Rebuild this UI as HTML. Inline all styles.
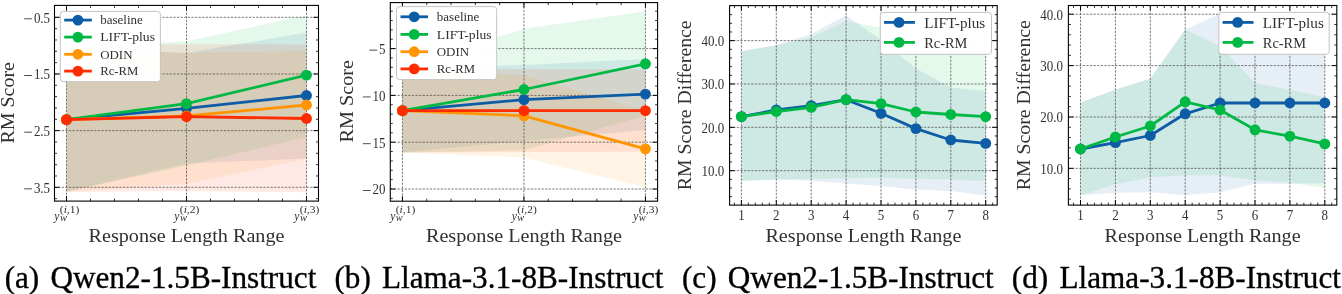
<!DOCTYPE html>
<html><head><meta charset="utf-8"><style>
html,body{margin:0;padding:0;background:#fff;width:1342px;height:294px;overflow:hidden}
svg{display:block;will-change:transform}
text{font-family:"Liberation Serif",serif}
</style></head><body>
<svg width="1342" height="294" viewBox="0 0 1342 294" font-family="Liberation Serif, serif" fill="#303030">
<rect width="1342" height="294" fill="#fff"/>
<path d="M66.5 47.7 L186.5 53 L306.5 32.6 L306.5 158.4 L186.5 163.6 L66.5 191.7Z" fill="#0C5DA5" fill-opacity="0.1"/>
<path d="M66.5 47.7 L186.5 41.3 L306.5 15.2 L306.5 137 L186.5 165.5 L66.5 191.7Z" fill="#00B945" fill-opacity="0.1"/>
<path d="M66.5 47.7 L186.5 53 L306.5 51 L306.5 158.8 L186.5 184 L66.5 191.7Z" fill="#FF9500" fill-opacity="0.1"/>
<path d="M66.5 44.5 L186.5 44.2 L306.5 44.5 L306.5 192.2 L186.5 191 L66.5 192Z" fill="#FF2C00" fill-opacity="0.1"/>
<path d="M66.5 5.4V201.1M186.5 5.4V201.1M306.5 5.4V201.1M54.5 17.3H318.5M54.5 73.97H318.5M54.5 130.64H318.5M54.5 187.31H318.5" stroke="#505050" stroke-width="0.75" stroke-dasharray="2.3 1.3" fill="none"/>
<path d="M66.5 119.7 L186.5 108.3 L306.5 95.5" fill="none" stroke="#0C5DA5" stroke-width="2.8" stroke-linejoin="round"/>
<circle cx="66.5" cy="119.7" r="5.45" fill="#0C5DA5"/>
<circle cx="186.5" cy="108.3" r="5.45" fill="#0C5DA5"/>
<circle cx="306.5" cy="95.5" r="5.45" fill="#0C5DA5"/>
<path d="M66.5 119.7 L186.5 103.7 L306.5 75.1" fill="none" stroke="#00B945" stroke-width="2.8" stroke-linejoin="round"/>
<circle cx="66.5" cy="119.7" r="5.45" fill="#00B945"/>
<circle cx="186.5" cy="103.7" r="5.45" fill="#00B945"/>
<circle cx="306.5" cy="75.1" r="5.45" fill="#00B945"/>
<path d="M66.5 119.7 L186.5 116 L306.5 105" fill="none" stroke="#FF9500" stroke-width="2.8" stroke-linejoin="round"/>
<circle cx="66.5" cy="119.7" r="5.45" fill="#FF9500"/>
<circle cx="186.5" cy="116" r="5.45" fill="#FF9500"/>
<circle cx="306.5" cy="105" r="5.45" fill="#FF9500"/>
<path d="M66.5 119.7 L186.5 116.7 L306.5 118.5" fill="none" stroke="#FF2C00" stroke-width="2.8" stroke-linejoin="round"/>
<circle cx="66.5" cy="119.7" r="5.45" fill="#FF2C00"/>
<circle cx="186.5" cy="116.7" r="5.45" fill="#FF2C00"/>
<circle cx="306.5" cy="118.5" r="5.45" fill="#FF2C00"/>
<path d="M66.5 201.1v-5M66.5 5.4v5M186.5 201.1v-5M186.5 5.4v5M306.5 201.1v-5M306.5 5.4v5M54.5 17.3h5M318.5 17.3h-5M54.5 73.97h5M318.5 73.97h-5M54.5 130.64h5M318.5 130.64h-5M54.5 187.31h5M318.5 187.31h-5" stroke="#000" stroke-width="1" fill="none"/>
<path d="M90.5 201.1v-2.5M90.5 5.4v2.5M114.5 201.1v-2.5M114.5 5.4v2.5M138.5 201.1v-2.5M138.5 5.4v2.5M162.5 201.1v-2.5M162.5 5.4v2.5M210.5 201.1v-2.5M210.5 5.4v2.5M234.5 201.1v-2.5M234.5 5.4v2.5M258.5 201.1v-2.5M258.5 5.4v2.5M282.5 201.1v-2.5M282.5 5.4v2.5M54.5 28.63h2.5M318.5 28.63h-2.5M54.5 39.97h2.5M318.5 39.97h-2.5M54.5 51.3h2.5M318.5 51.3h-2.5M54.5 62.64h2.5M318.5 62.64h-2.5M54.5 85.3h2.5M318.5 85.3h-2.5M54.5 96.64h2.5M318.5 96.64h-2.5M54.5 107.97h2.5M318.5 107.97h-2.5M54.5 119.31h2.5M318.5 119.31h-2.5M54.5 141.97h2.5M318.5 141.97h-2.5M54.5 153.31h2.5M318.5 153.31h-2.5M54.5 164.64h2.5M318.5 164.64h-2.5M54.5 175.98h2.5M318.5 175.98h-2.5M54.5 198.64h2.5M318.5 198.64h-2.5" stroke="#000" stroke-width="0.8" fill="none"/>
<rect x="54.5" y="5.4" width="264" height="195.7" fill="none" stroke="#000" stroke-width="1.1"/>
<rect x="60.3" y="11.4" width="100.1" height="70.3" rx="3" ry="3" fill="#fff" fill-opacity="0.97" stroke="#c4c4c4" stroke-width="1"/>
<path d="M64.2 20.1H91.8" stroke="#0C5DA5" stroke-width="2.8"/>
<circle cx="77.9" cy="20.1" r="5.4" fill="#0C5DA5"/>
<text x="100.2" y="24.4" font-size="12.3" textLength="42.6" lengthAdjust="spacingAndGlyphs">baseline</text>
<path d="M64.2 37.1H91.8" stroke="#00B945" stroke-width="2.8"/>
<circle cx="77.9" cy="37.1" r="5.4" fill="#00B945"/>
<text x="100.2" y="41.4" font-size="12.3" textLength="54.8" lengthAdjust="spacingAndGlyphs">LIFT-plus</text>
<path d="M64.2 54.3H91.8" stroke="#FF9500" stroke-width="2.8"/>
<circle cx="77.9" cy="54.3" r="5.4" fill="#FF9500"/>
<text x="100.2" y="58.6" font-size="12.3" textLength="32.3" lengthAdjust="spacingAndGlyphs">ODIN</text>
<path d="M64.2 71.1H91.8" stroke="#FF2C00" stroke-width="2.8"/>
<circle cx="77.9" cy="71.1" r="5.4" fill="#FF2C00"/>
<text x="100.2" y="75.4" font-size="12.3" textLength="38.2" lengthAdjust="spacingAndGlyphs">Rc-RM</text>
<path d="M402.45 69 L523.95 64.9 L645.45 58.9 L645.45 130 L523.95 141 L402.45 152.4Z" fill="#0C5DA5" fill-opacity="0.1"/>
<path d="M402.45 69 L523.95 28.7 L645.45 11.3 L645.45 115.5 L523.95 150.3 L402.45 152.4Z" fill="#00B945" fill-opacity="0.1"/>
<path d="M402.45 69 L523.95 75.5 L645.45 110.8 L645.45 187.5 L523.95 157.5 L402.45 152.4Z" fill="#FF9500" fill-opacity="0.1"/>
<path d="M402.45 69 L523.95 69.3 L645.45 69.2 L645.45 151.6 L523.95 152 L402.45 152.4Z" fill="#FF2C00" fill-opacity="0.1"/>
<path d="M402.45 2.6V201.2M523.95 2.6V201.2M645.45 2.6V201.2M390.3 48.6H657.6M390.3 95.4H657.6M390.3 142.2H657.6M390.3 189H657.6" stroke="#505050" stroke-width="0.75" stroke-dasharray="2.3 1.3" fill="none"/>
<path d="M402.45 110.7 L523.95 99.7 L645.45 94.1" fill="none" stroke="#0C5DA5" stroke-width="2.8" stroke-linejoin="round"/>
<circle cx="402.45" cy="110.7" r="5.45" fill="#0C5DA5"/>
<circle cx="523.95" cy="99.7" r="5.45" fill="#0C5DA5"/>
<circle cx="645.45" cy="94.1" r="5.45" fill="#0C5DA5"/>
<path d="M402.45 110.7 L523.95 89.5 L645.45 63.8" fill="none" stroke="#00B945" stroke-width="2.8" stroke-linejoin="round"/>
<circle cx="402.45" cy="110.7" r="5.45" fill="#00B945"/>
<circle cx="523.95" cy="89.5" r="5.45" fill="#00B945"/>
<circle cx="645.45" cy="63.8" r="5.45" fill="#00B945"/>
<path d="M402.45 110.7 L523.95 115.8 L645.45 148.9" fill="none" stroke="#FF9500" stroke-width="2.8" stroke-linejoin="round"/>
<circle cx="402.45" cy="110.7" r="5.45" fill="#FF9500"/>
<circle cx="523.95" cy="115.8" r="5.45" fill="#FF9500"/>
<circle cx="645.45" cy="148.9" r="5.45" fill="#FF9500"/>
<path d="M402.45 110.7 L523.95 110.7 L645.45 110.7" fill="none" stroke="#FF2C00" stroke-width="2.8" stroke-linejoin="round"/>
<circle cx="402.45" cy="110.7" r="5.45" fill="#FF2C00"/>
<circle cx="523.95" cy="110.7" r="5.45" fill="#FF2C00"/>
<circle cx="645.45" cy="110.7" r="5.45" fill="#FF2C00"/>
<path d="M402.45 201.2v-5M402.45 2.6v5M523.95 201.2v-5M523.95 2.6v5M645.45 201.2v-5M645.45 2.6v5M390.3 48.6h5M657.6 48.6h-5M390.3 95.4h5M657.6 95.4h-5M390.3 142.2h5M657.6 142.2h-5M390.3 189h5M657.6 189h-5" stroke="#000" stroke-width="1" fill="none"/>
<path d="M426.75 201.2v-2.5M426.75 2.6v2.5M451.05 201.2v-2.5M451.05 2.6v2.5M475.35 201.2v-2.5M475.35 2.6v2.5M499.65 201.2v-2.5M499.65 2.6v2.5M548.25 201.2v-2.5M548.25 2.6v2.5M572.55 201.2v-2.5M572.55 2.6v2.5M596.85 201.2v-2.5M596.85 2.6v2.5M621.15 201.2v-2.5M621.15 2.6v2.5M390.3 11.16h2.5M657.6 11.16h-2.5M390.3 20.52h2.5M657.6 20.52h-2.5M390.3 29.88h2.5M657.6 29.88h-2.5M390.3 39.24h2.5M657.6 39.24h-2.5M390.3 57.96h2.5M657.6 57.96h-2.5M390.3 67.32h2.5M657.6 67.32h-2.5M390.3 76.68h2.5M657.6 76.68h-2.5M390.3 86.04h2.5M657.6 86.04h-2.5M390.3 104.76h2.5M657.6 104.76h-2.5M390.3 114.12h2.5M657.6 114.12h-2.5M390.3 123.48h2.5M657.6 123.48h-2.5M390.3 132.84h2.5M657.6 132.84h-2.5M390.3 151.56h2.5M657.6 151.56h-2.5M390.3 160.92h2.5M657.6 160.92h-2.5M390.3 170.28h2.5M657.6 170.28h-2.5M390.3 179.64h2.5M657.6 179.64h-2.5M390.3 198.36h2.5M657.6 198.36h-2.5" stroke="#000" stroke-width="0.8" fill="none"/>
<rect x="390.3" y="2.6" width="267.3" height="198.6" fill="none" stroke="#000" stroke-width="1.1"/>
<rect x="396.5" y="6.6" width="100.2" height="73" rx="3" ry="3" fill="#fff" fill-opacity="0.97" stroke="#c4c4c4" stroke-width="1"/>
<path d="M400.5 16.8H428" stroke="#0C5DA5" stroke-width="2.8"/>
<circle cx="414.2" cy="16.8" r="5.4" fill="#0C5DA5"/>
<text x="436.8" y="21.1" font-size="12.3" textLength="42.6" lengthAdjust="spacingAndGlyphs">baseline</text>
<path d="M400.5 34.4H428" stroke="#00B945" stroke-width="2.8"/>
<circle cx="414.2" cy="34.4" r="5.4" fill="#00B945"/>
<text x="436.8" y="38.7" font-size="12.3" textLength="54.8" lengthAdjust="spacingAndGlyphs">LIFT-plus</text>
<path d="M400.5 51.7H428" stroke="#FF9500" stroke-width="2.8"/>
<circle cx="414.2" cy="51.7" r="5.4" fill="#FF9500"/>
<text x="436.8" y="56" font-size="12.3" textLength="32.3" lengthAdjust="spacingAndGlyphs">ODIN</text>
<path d="M400.5 68.9H428" stroke="#FF2C00" stroke-width="2.8"/>
<circle cx="414.2" cy="68.9" r="5.4" fill="#FF2C00"/>
<text x="436.8" y="73.2" font-size="12.3" textLength="38.2" lengthAdjust="spacingAndGlyphs">Rc-RM</text>
<path d="M741.4 51 L776.3 45 L811.2 34 L846.1 15.3 L881 40 L915.9 68.4 L950.8 87.8 L985.7 90.8 L985.7 195.6 L950.8 191 L915.9 189.7 L881 186 L846.1 183.4 L811.2 180.8 L776.3 179.6 L741.4 180.9Z" fill="#0C5DA5" fill-opacity="0.1"/>
<path d="M741.4 51.2 L776.3 45.4 L811.2 37.3 L846.1 21.1 L881 27.7 L915.9 44 L950.8 48.2 L985.7 51.9 L985.7 181.3 L950.8 179.5 L915.9 178.8 L881 177.8 L846.1 178.3 L811.2 178.8 L776.3 179.5 L741.4 180.8Z" fill="#00B945" fill-opacity="0.1"/>
<path d="M741.4 5.6V205.1M776.3 5.6V205.1M811.2 5.6V205.1M846.1 5.6V205.1M881 5.6V205.1M915.9 5.6V205.1M950.8 5.6V205.1M985.7 5.6V205.1M729.6 170.66H997.2M729.6 127.32H997.2M729.6 83.98H997.2M729.6 40.64H997.2" stroke="#505050" stroke-width="0.75" stroke-dasharray="2.3 1.3" fill="none"/>
<path d="M741.4 116.6 L776.3 110 L811.2 105.6 L846.1 99.7 L881 113.3 L915.9 128.6 L950.8 140 L985.7 143.4" fill="none" stroke="#0C5DA5" stroke-width="2.8" stroke-linejoin="round"/>
<circle cx="741.4" cy="116.6" r="5.45" fill="#0C5DA5"/>
<circle cx="776.3" cy="110" r="5.45" fill="#0C5DA5"/>
<circle cx="811.2" cy="105.6" r="5.45" fill="#0C5DA5"/>
<circle cx="846.1" cy="99.7" r="5.45" fill="#0C5DA5"/>
<circle cx="881" cy="113.3" r="5.45" fill="#0C5DA5"/>
<circle cx="915.9" cy="128.6" r="5.45" fill="#0C5DA5"/>
<circle cx="950.8" cy="140" r="5.45" fill="#0C5DA5"/>
<circle cx="985.7" cy="143.4" r="5.45" fill="#0C5DA5"/>
<path d="M741.4 116.6 L776.3 111.5 L811.2 107.4 L846.1 99.7 L881 103.6 L915.9 112 L950.8 114.5 L985.7 116.6" fill="none" stroke="#00B945" stroke-width="2.8" stroke-linejoin="round"/>
<circle cx="741.4" cy="116.6" r="5.45" fill="#00B945"/>
<circle cx="776.3" cy="111.5" r="5.45" fill="#00B945"/>
<circle cx="811.2" cy="107.4" r="5.45" fill="#00B945"/>
<circle cx="846.1" cy="99.7" r="5.45" fill="#00B945"/>
<circle cx="881" cy="103.6" r="5.45" fill="#00B945"/>
<circle cx="915.9" cy="112" r="5.45" fill="#00B945"/>
<circle cx="950.8" cy="114.5" r="5.45" fill="#00B945"/>
<circle cx="985.7" cy="116.6" r="5.45" fill="#00B945"/>
<path d="M741.4 205.1v-5M741.4 5.6v5M776.3 205.1v-5M776.3 5.6v5M811.2 205.1v-5M811.2 5.6v5M846.1 205.1v-5M846.1 5.6v5M881 205.1v-5M881 5.6v5M915.9 205.1v-5M915.9 5.6v5M950.8 205.1v-5M950.8 5.6v5M985.7 205.1v-5M985.7 5.6v5M729.6 170.66h5M997.2 170.66h-5M729.6 127.32h5M997.2 127.32h-5M729.6 83.98h5M997.2 83.98h-5M729.6 40.64h5M997.2 40.64h-5" stroke="#000" stroke-width="1" fill="none"/>
<path d="M734.42 205.1v-2.5M734.42 5.6v2.5M748.38 205.1v-2.5M748.38 5.6v2.5M755.36 205.1v-2.5M755.36 5.6v2.5M762.34 205.1v-2.5M762.34 5.6v2.5M769.32 205.1v-2.5M769.32 5.6v2.5M783.28 205.1v-2.5M783.28 5.6v2.5M790.26 205.1v-2.5M790.26 5.6v2.5M797.24 205.1v-2.5M797.24 5.6v2.5M804.22 205.1v-2.5M804.22 5.6v2.5M818.18 205.1v-2.5M818.18 5.6v2.5M825.16 205.1v-2.5M825.16 5.6v2.5M832.14 205.1v-2.5M832.14 5.6v2.5M839.12 205.1v-2.5M839.12 5.6v2.5M853.08 205.1v-2.5M853.08 5.6v2.5M860.06 205.1v-2.5M860.06 5.6v2.5M867.04 205.1v-2.5M867.04 5.6v2.5M874.02 205.1v-2.5M874.02 5.6v2.5M887.98 205.1v-2.5M887.98 5.6v2.5M894.96 205.1v-2.5M894.96 5.6v2.5M901.94 205.1v-2.5M901.94 5.6v2.5M908.92 205.1v-2.5M908.92 5.6v2.5M922.88 205.1v-2.5M922.88 5.6v2.5M929.86 205.1v-2.5M929.86 5.6v2.5M936.84 205.1v-2.5M936.84 5.6v2.5M943.82 205.1v-2.5M943.82 5.6v2.5M957.78 205.1v-2.5M957.78 5.6v2.5M964.76 205.1v-2.5M964.76 5.6v2.5M971.74 205.1v-2.5M971.74 5.6v2.5M978.72 205.1v-2.5M978.72 5.6v2.5M992.68 205.1v-2.5M992.68 5.6v2.5M729.6 196.66h2.5M997.2 196.66h-2.5M729.6 188h2.5M997.2 188h-2.5M729.6 179.33h2.5M997.2 179.33h-2.5M729.6 161.99h2.5M997.2 161.99h-2.5M729.6 153.32h2.5M997.2 153.32h-2.5M729.6 144.66h2.5M997.2 144.66h-2.5M729.6 135.99h2.5M997.2 135.99h-2.5M729.6 118.65h2.5M997.2 118.65h-2.5M729.6 109.98h2.5M997.2 109.98h-2.5M729.6 101.32h2.5M997.2 101.32h-2.5M729.6 92.65h2.5M997.2 92.65h-2.5M729.6 75.31h2.5M997.2 75.31h-2.5M729.6 66.64h2.5M997.2 66.64h-2.5M729.6 57.98h2.5M997.2 57.98h-2.5M729.6 49.31h2.5M997.2 49.31h-2.5M729.6 31.97h2.5M997.2 31.97h-2.5M729.6 23.3h2.5M997.2 23.3h-2.5M729.6 14.64h2.5M997.2 14.64h-2.5" stroke="#000" stroke-width="0.8" fill="none"/>
<rect x="729.6" y="5.6" width="267.6" height="199.5" fill="none" stroke="#000" stroke-width="1.1"/>
<rect x="880.3" y="12.4" width="111.2" height="41.9" rx="3" ry="3" fill="#fff" fill-opacity="0.97" stroke="#c4c4c4" stroke-width="1"/>
<path d="M884 22.4H914.9" stroke="#0C5DA5" stroke-width="2.8"/>
<circle cx="899" cy="22.4" r="5.4" fill="#0C5DA5"/>
<text x="924.2" y="27.6" font-size="14.3" textLength="61" lengthAdjust="spacingAndGlyphs">LIFT-plus</text>
<path d="M884 42.4H914.9" stroke="#00B945" stroke-width="2.8"/>
<circle cx="899" cy="42.4" r="5.4" fill="#00B945"/>
<text x="924.2" y="47.6" font-size="14.3" textLength="43.2" lengthAdjust="spacingAndGlyphs">Rc-RM</text>
<path d="M1080.5 102.4 L1115.4 89.6 L1150.3 78.4 L1185.2 29.4 L1220.1 13.7 L1255 22.2 L1289.9 22.2 L1324.8 22.8 L1324.8 183.2 L1289.9 183.8 L1255 183.8 L1220.1 192.3 L1185.2 195.3 L1150.3 192.3 L1115.4 192.7 L1080.5 195.3Z" fill="#0C5DA5" fill-opacity="0.1"/>
<path d="M1080.5 102.6 L1115.4 89.8 L1150.3 78.6 L1185.2 29.4 L1220.1 46 L1255 83.2 L1289.9 89.8 L1324.8 97.6 L1324.8 188.2 L1289.9 182.6 L1255 180.2 L1220.1 175.2 L1185.2 175.2 L1150.3 177.2 L1115.4 184.2 L1080.5 195.3Z" fill="#00B945" fill-opacity="0.1"/>
<path d="M1080.5 5.5V205.1M1115.4 5.5V205.1M1150.3 5.5V205.1M1185.2 5.5V205.1M1220.1 5.5V205.1M1255 5.5V205.1M1289.9 5.5V205.1M1324.8 5.5V205.1M1068.4 168.35H1336.8M1068.4 116.98H1336.8M1068.4 65.6H1336.8M1068.4 14.23H1336.8" stroke="#505050" stroke-width="0.75" stroke-dasharray="2.3 1.3" fill="none"/>
<path d="M1080.5 149 L1115.4 142.6 L1150.3 135.5 L1185.2 113.8 L1220.1 103 L1255 103 L1289.9 103 L1324.8 103" fill="none" stroke="#0C5DA5" stroke-width="2.8" stroke-linejoin="round"/>
<circle cx="1080.5" cy="149" r="5.45" fill="#0C5DA5"/>
<circle cx="1115.4" cy="142.6" r="5.45" fill="#0C5DA5"/>
<circle cx="1150.3" cy="135.5" r="5.45" fill="#0C5DA5"/>
<circle cx="1185.2" cy="113.8" r="5.45" fill="#0C5DA5"/>
<circle cx="1220.1" cy="103" r="5.45" fill="#0C5DA5"/>
<circle cx="1255" cy="103" r="5.45" fill="#0C5DA5"/>
<circle cx="1289.9" cy="103" r="5.45" fill="#0C5DA5"/>
<circle cx="1324.8" cy="103" r="5.45" fill="#0C5DA5"/>
<path d="M1080.5 149 L1115.4 137 L1150.3 126 L1185.2 101.8 L1220.1 110 L1255 129.8 L1289.9 136.2 L1324.8 143.9" fill="none" stroke="#00B945" stroke-width="2.8" stroke-linejoin="round"/>
<circle cx="1080.5" cy="149" r="5.45" fill="#00B945"/>
<circle cx="1115.4" cy="137" r="5.45" fill="#00B945"/>
<circle cx="1150.3" cy="126" r="5.45" fill="#00B945"/>
<circle cx="1185.2" cy="101.8" r="5.45" fill="#00B945"/>
<circle cx="1220.1" cy="110" r="5.45" fill="#00B945"/>
<circle cx="1255" cy="129.8" r="5.45" fill="#00B945"/>
<circle cx="1289.9" cy="136.2" r="5.45" fill="#00B945"/>
<circle cx="1324.8" cy="143.9" r="5.45" fill="#00B945"/>
<path d="M1080.5 205.1v-5M1080.5 5.5v5M1115.4 205.1v-5M1115.4 5.5v5M1150.3 205.1v-5M1150.3 5.5v5M1185.2 205.1v-5M1185.2 5.5v5M1220.1 205.1v-5M1220.1 5.5v5M1255 205.1v-5M1255 5.5v5M1289.9 205.1v-5M1289.9 5.5v5M1324.8 205.1v-5M1324.8 5.5v5M1068.4 168.35h5M1336.8 168.35h-5M1068.4 116.98h5M1336.8 116.98h-5M1068.4 65.6h5M1336.8 65.6h-5M1068.4 14.23h5M1336.8 14.23h-5" stroke="#000" stroke-width="1" fill="none"/>
<path d="M1073.52 205.1v-2.5M1073.52 5.5v2.5M1087.48 205.1v-2.5M1087.48 5.5v2.5M1094.46 205.1v-2.5M1094.46 5.5v2.5M1101.44 205.1v-2.5M1101.44 5.5v2.5M1108.42 205.1v-2.5M1108.42 5.5v2.5M1122.38 205.1v-2.5M1122.38 5.5v2.5M1129.36 205.1v-2.5M1129.36 5.5v2.5M1136.34 205.1v-2.5M1136.34 5.5v2.5M1143.32 205.1v-2.5M1143.32 5.5v2.5M1157.28 205.1v-2.5M1157.28 5.5v2.5M1164.26 205.1v-2.5M1164.26 5.5v2.5M1171.24 205.1v-2.5M1171.24 5.5v2.5M1178.22 205.1v-2.5M1178.22 5.5v2.5M1192.18 205.1v-2.5M1192.18 5.5v2.5M1199.16 205.1v-2.5M1199.16 5.5v2.5M1206.14 205.1v-2.5M1206.14 5.5v2.5M1213.12 205.1v-2.5M1213.12 5.5v2.5M1227.08 205.1v-2.5M1227.08 5.5v2.5M1234.06 205.1v-2.5M1234.06 5.5v2.5M1241.04 205.1v-2.5M1241.04 5.5v2.5M1248.02 205.1v-2.5M1248.02 5.5v2.5M1261.98 205.1v-2.5M1261.98 5.5v2.5M1268.96 205.1v-2.5M1268.96 5.5v2.5M1275.94 205.1v-2.5M1275.94 5.5v2.5M1282.92 205.1v-2.5M1282.92 5.5v2.5M1296.88 205.1v-2.5M1296.88 5.5v2.5M1303.86 205.1v-2.5M1303.86 5.5v2.5M1310.84 205.1v-2.5M1310.84 5.5v2.5M1317.82 205.1v-2.5M1317.82 5.5v2.5M1331.78 205.1v-2.5M1331.78 5.5v2.5M1068.4 199.18h2.5M1336.8 199.18h-2.5M1068.4 188.9h2.5M1336.8 188.9h-2.5M1068.4 178.63h2.5M1336.8 178.63h-2.5M1068.4 158.08h2.5M1336.8 158.08h-2.5M1068.4 147.8h2.5M1336.8 147.8h-2.5M1068.4 137.53h2.5M1336.8 137.53h-2.5M1068.4 127.25h2.5M1336.8 127.25h-2.5M1068.4 106.7h2.5M1336.8 106.7h-2.5M1068.4 96.43h2.5M1336.8 96.43h-2.5M1068.4 86.15h2.5M1336.8 86.15h-2.5M1068.4 75.88h2.5M1336.8 75.88h-2.5M1068.4 55.33h2.5M1336.8 55.33h-2.5M1068.4 45.05h2.5M1336.8 45.05h-2.5M1068.4 34.78h2.5M1336.8 34.78h-2.5M1068.4 24.5h2.5M1336.8 24.5h-2.5" stroke="#000" stroke-width="0.8" fill="none"/>
<rect x="1068.4" y="5.5" width="268.4" height="199.6" fill="none" stroke="#000" stroke-width="1.1"/>
<rect x="1218.8" y="12.4" width="110.4" height="41.9" rx="3" ry="3" fill="#fff" fill-opacity="0.97" stroke="#c4c4c4" stroke-width="1"/>
<path d="M1222.6 22.4H1253.5" stroke="#0C5DA5" stroke-width="2.8"/>
<circle cx="1237.6" cy="22.4" r="5.4" fill="#0C5DA5"/>
<text x="1262.8" y="27.6" font-size="14.3" textLength="61" lengthAdjust="spacingAndGlyphs">LIFT-plus</text>
<path d="M1222.6 42.4H1253.5" stroke="#00B945" stroke-width="2.8"/>
<circle cx="1237.6" cy="42.4" r="5.4" fill="#00B945"/>
<text x="1262.8" y="47.6" font-size="14.3" textLength="43.2" lengthAdjust="spacingAndGlyphs">Rc-RM</text>
<text x="50.1" y="22.7" font-size="14.4" text-anchor="end" textLength="16.2" lengthAdjust="spacingAndGlyphs">0.5</text>
<rect x="24.2" y="18.4" width="7.8" height="0.85"/>
<text x="50.1" y="79.37" font-size="14.4" text-anchor="end" textLength="16.2" lengthAdjust="spacingAndGlyphs">1.5</text>
<rect x="24.2" y="75.07" width="7.8" height="0.85"/>
<text x="50.1" y="136.04" font-size="14.4" text-anchor="end" textLength="16.2" lengthAdjust="spacingAndGlyphs">2.5</text>
<rect x="24.2" y="131.74" width="7.8" height="0.85"/>
<text x="50.1" y="192.71" font-size="14.4" text-anchor="end" textLength="16.2" lengthAdjust="spacingAndGlyphs">3.5</text>
<rect x="24.2" y="188.41" width="7.8" height="0.85"/>
<text x="385.5" y="54" font-size="14.4" text-anchor="end" textLength="6.48" lengthAdjust="spacingAndGlyphs">5</text>
<rect x="369.32" y="49.7" width="7.8" height="0.85"/>
<text x="385.5" y="100.8" font-size="14.4" text-anchor="end" textLength="12.96" lengthAdjust="spacingAndGlyphs">10</text>
<rect x="362.84" y="96.5" width="7.8" height="0.85"/>
<text x="385.5" y="147.6" font-size="14.4" text-anchor="end" textLength="12.96" lengthAdjust="spacingAndGlyphs">15</text>
<rect x="362.84" y="143.3" width="7.8" height="0.85"/>
<text x="385.5" y="194.4" font-size="14.4" text-anchor="end" textLength="12.96" lengthAdjust="spacingAndGlyphs">20</text>
<rect x="362.84" y="190.1" width="7.8" height="0.85"/>
<text x="724.3" y="176.06" font-size="14.4" text-anchor="end" textLength="22.68" lengthAdjust="spacingAndGlyphs">10.0</text>
<text x="724.3" y="132.72" font-size="14.4" text-anchor="end" textLength="22.68" lengthAdjust="spacingAndGlyphs">20.0</text>
<text x="724.3" y="89.38" font-size="14.4" text-anchor="end" textLength="22.68" lengthAdjust="spacingAndGlyphs">30.0</text>
<text x="724.3" y="46.04" font-size="14.4" text-anchor="end" textLength="22.68" lengthAdjust="spacingAndGlyphs">40.0</text>
<text x="1063" y="173.75" font-size="14.4" text-anchor="end" textLength="22.68" lengthAdjust="spacingAndGlyphs">10.0</text>
<text x="1063" y="122.38" font-size="14.4" text-anchor="end" textLength="22.68" lengthAdjust="spacingAndGlyphs">20.0</text>
<text x="1063" y="71" font-size="14.4" text-anchor="end" textLength="22.68" lengthAdjust="spacingAndGlyphs">30.0</text>
<text x="1063" y="19.63" font-size="14.4" text-anchor="end" textLength="22.68" lengthAdjust="spacingAndGlyphs">40.0</text>
<text x="741.4" y="220.3" font-size="14.4" text-anchor="middle" textLength="6.48" lengthAdjust="spacingAndGlyphs">1</text>
<text x="776.3" y="220.3" font-size="14.4" text-anchor="middle" textLength="6.48" lengthAdjust="spacingAndGlyphs">2</text>
<text x="811.2" y="220.3" font-size="14.4" text-anchor="middle" textLength="6.48" lengthAdjust="spacingAndGlyphs">3</text>
<text x="846.1" y="220.3" font-size="14.4" text-anchor="middle" textLength="6.48" lengthAdjust="spacingAndGlyphs">4</text>
<text x="881" y="220.3" font-size="14.4" text-anchor="middle" textLength="6.48" lengthAdjust="spacingAndGlyphs">5</text>
<text x="915.9" y="220.3" font-size="14.4" text-anchor="middle" textLength="6.48" lengthAdjust="spacingAndGlyphs">6</text>
<text x="950.8" y="220.3" font-size="14.4" text-anchor="middle" textLength="6.48" lengthAdjust="spacingAndGlyphs">7</text>
<text x="985.7" y="220.3" font-size="14.4" text-anchor="middle" textLength="6.48" lengthAdjust="spacingAndGlyphs">8</text>
<text x="1080.5" y="220.3" font-size="14.4" text-anchor="middle" textLength="6.48" lengthAdjust="spacingAndGlyphs">1</text>
<text x="1115.4" y="220.3" font-size="14.4" text-anchor="middle" textLength="6.48" lengthAdjust="spacingAndGlyphs">2</text>
<text x="1150.3" y="220.3" font-size="14.4" text-anchor="middle" textLength="6.48" lengthAdjust="spacingAndGlyphs">3</text>
<text x="1185.2" y="220.3" font-size="14.4" text-anchor="middle" textLength="6.48" lengthAdjust="spacingAndGlyphs">4</text>
<text x="1220.1" y="220.3" font-size="14.4" text-anchor="middle" textLength="6.48" lengthAdjust="spacingAndGlyphs">5</text>
<text x="1255" y="220.3" font-size="14.4" text-anchor="middle" textLength="6.48" lengthAdjust="spacingAndGlyphs">6</text>
<text x="1289.9" y="220.3" font-size="14.4" text-anchor="middle" textLength="6.48" lengthAdjust="spacingAndGlyphs">7</text>
<text x="1324.8" y="220.3" font-size="14.4" text-anchor="middle" textLength="6.48" lengthAdjust="spacingAndGlyphs">8</text>
<text x="54.3" y="220.2" font-size="11.6" font-style="italic">y</text>
<text x="59.9" y="221" font-size="10.4" font-style="italic">w</text>
<text x="59.8" y="213.3" font-size="10" textLength="19.5" lengthAdjust="spacingAndGlyphs">(<tspan font-style="italic">i</tspan>,1)</text>
<text x="174.3" y="220.2" font-size="11.6" font-style="italic">y</text>
<text x="179.9" y="221" font-size="10.4" font-style="italic">w</text>
<text x="179.8" y="213.3" font-size="10" textLength="19.5" lengthAdjust="spacingAndGlyphs">(<tspan font-style="italic">i</tspan>,2)</text>
<text x="294.3" y="220.2" font-size="11.6" font-style="italic">y</text>
<text x="299.9" y="221" font-size="10.4" font-style="italic">w</text>
<text x="299.8" y="213.3" font-size="10" textLength="19.5" lengthAdjust="spacingAndGlyphs">(<tspan font-style="italic">i</tspan>,3)</text>
<text x="390.25" y="220.2" font-size="11.6" font-style="italic">y</text>
<text x="395.85" y="221" font-size="10.4" font-style="italic">w</text>
<text x="395.75" y="213.3" font-size="10" textLength="19.5" lengthAdjust="spacingAndGlyphs">(<tspan font-style="italic">i</tspan>,1)</text>
<text x="511.75" y="220.2" font-size="11.6" font-style="italic">y</text>
<text x="517.35" y="221" font-size="10.4" font-style="italic">w</text>
<text x="517.25" y="213.3" font-size="10" textLength="19.5" lengthAdjust="spacingAndGlyphs">(<tspan font-style="italic">i</tspan>,2)</text>
<text x="633.25" y="220.2" font-size="11.6" font-style="italic">y</text>
<text x="638.85" y="221" font-size="10.4" font-style="italic">w</text>
<text x="638.75" y="213.3" font-size="10" textLength="19.5" lengthAdjust="spacingAndGlyphs">(<tspan font-style="italic">i</tspan>,3)</text>
<text x="186.5" y="241.6" font-size="19.6" text-anchor="middle" textLength="196" lengthAdjust="spacingAndGlyphs">Response Length Range</text>
<text x="523.95" y="241.6" font-size="19.6" text-anchor="middle" textLength="196" lengthAdjust="spacingAndGlyphs">Response Length Range</text>
<text x="863.4" y="241.6" font-size="19.6" text-anchor="middle" textLength="196" lengthAdjust="spacingAndGlyphs">Response Length Range</text>
<text x="1202.6" y="241.6" font-size="19.6" text-anchor="middle" textLength="196" lengthAdjust="spacingAndGlyphs">Response Length Range</text>
<text transform="translate(13.8 102.8) rotate(-90)" x="0" y="0" font-size="19.6" text-anchor="middle" textLength="81.4" lengthAdjust="spacingAndGlyphs">RM Score</text>
<text transform="translate(352.9 101.3) rotate(-90)" x="0" y="0" font-size="19.6" text-anchor="middle" textLength="82.4" lengthAdjust="spacingAndGlyphs">RM Score</text>
<text transform="translate(690.9 105.3) rotate(-90)" x="0" y="0" font-size="19.6" text-anchor="middle" textLength="169.8" lengthAdjust="spacingAndGlyphs">RM Score Difference</text>
<text transform="translate(1030 105.2) rotate(-90)" x="0" y="0" font-size="19.6" text-anchor="middle" textLength="170.2" lengthAdjust="spacingAndGlyphs">RM Score Difference</text>
<text x="4.65" y="287.7" font-size="31.2" fill="#000" stroke="#000" stroke-width="0.35">(a)</text>
<text x="50.45" y="287.7" font-size="31.2" fill="#000" stroke="#000" stroke-width="0.35">Qwen2-1.5B-Instruct</text>
<text x="334.45" y="287.7" font-size="31.2" fill="#000" stroke="#000" stroke-width="0.35">(b)</text>
<text x="382" y="287.7" font-size="31.2" fill="#000" stroke="#000" stroke-width="0.35">Llama-3.1-8B-Instruct</text>
<text x="681.95" y="287.7" font-size="31.2" fill="#000" stroke="#000" stroke-width="0.35">(c)</text>
<text x="727.85" y="287.7" font-size="31.2" fill="#000" stroke="#000" stroke-width="0.35">Qwen2-1.5B-Instruct</text>
<text x="1011.85" y="287.7" font-size="31.2" fill="#000" stroke="#000" stroke-width="0.35">(d)</text>
<text x="1059.5" y="287.7" font-size="31.2" fill="#000" stroke="#000" stroke-width="0.35">Llama-3.1-8B-Instruct</text>
</svg>
</body></html>
